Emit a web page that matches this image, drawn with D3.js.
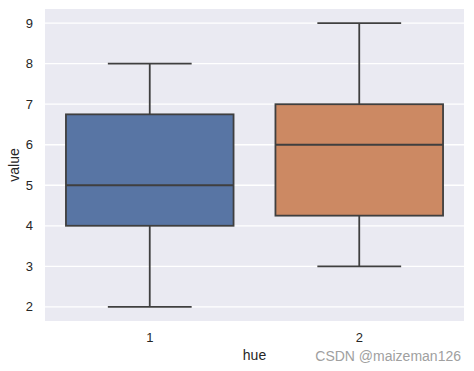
<!DOCTYPE html>
<html>
<head>
<meta charset="utf-8">
<script src="https://cdn.jsdelivr.net/npm/d3@7"></script>
<style>
  body { margin: 0; background: #fff; }
  svg { font-family: "Liberation Sans", Arial, sans-serif; }
</style>
</head>
<body>
<div id="chart"></div>
<script>
const categories = ['1', '2'];
const whiskerLow = [2, 3];
const q1 = [4, 4.25];
const median = [5, 6];
const q3 = [6.75, 7];
const whiskerHigh = [8, 9];
const yTicks = [2, 3, 4, 5, 6, 7, 8, 9];
const colors = ['#5875a4', '#cc8963'];

const boxes = categories.map((c, i) => ({
  cat: c,
  lo: whiskerLow[i],
  q1: q1[i],
  med: median[i],
  q3: q3[i],
  hi: whiskerHigh[i],
  color: colors[i]
}));

const width = 474;
const height = 371;
const margin = { top: 9, right: 10, bottom: 50, left: 45 };
const lineColor = '#3f3f3f';

const svg = d3.select('#chart')
  .append('svg')
  .attr('width', width)
  .attr('height', height);

const x = d3.scaleBand()
  .domain(categories)
  .range([margin.left, width - margin.right]);

// matplotlib style 5% padding around data range
const y = d3.scaleLinear()
  .domain([1.65, 9.35])
  .range([height - margin.bottom, margin.top]);

svg.append('rect')
  .attr('x', margin.left)
  .attr('y', margin.top)
  .attr('width', width - margin.left - margin.right)
  .attr('height', height - margin.top - margin.bottom)
  .attr('fill', '#eaeaf2');

// grid
svg.append('g')
  .selectAll('line')
  .data(yTicks)
  .join('line')
  .attr('x1', margin.left)
  .attr('x2', width - margin.right)
  .attr('y1', (d) => y(d))
  .attr('y2', (d) => y(d))
  .attr('stroke', '#fff')
  .attr('stroke-width', 1.3);

// y axis
const yAxis = svg.append('g')
  .attr('transform', `translate(${margin.left},0)`)
  .call(d3.axisLeft(y).tickValues(yTicks).tickSize(0).tickPadding(12));
yAxis.select('.domain').remove();
yAxis.selectAll('text')
  .attr('font-size', 13)
  .attr('fill', '#262626');

// x axis
const xAxis = svg.append('g')
  .attr('transform', `translate(0,${height - margin.bottom})`)
  .call(d3.axisBottom(x).tickSize(0).tickPadding(12));
xAxis.select('.domain').remove();
xAxis.selectAll('text')
  .attr('font-size', 13)
  .attr('fill', '#262626');

const bw = x.bandwidth();
const boxW = bw * 0.8;
const capW = bw * 0.4;

const g = svg.append('g')
  .selectAll('g')
  .data(boxes)
  .join('g')
  .attr('transform', (d) => `translate(${x(d.cat) + bw / 2},0)`);

// whiskers
g.append('line')
  .attr('x1', 0).attr('x2', 0)
  .attr('y1', (d) => y(d.lo))
  .attr('y2', (d) => y(d.q1))
  .attr('stroke', lineColor).attr('stroke-width', 1.8);
g.append('line')
  .attr('x1', 0).attr('x2', 0)
  .attr('y1', (d) => y(d.q3))
  .attr('y2', (d) => y(d.hi))
  .attr('stroke', lineColor).attr('stroke-width', 1.8);

// caps
g.append('line')
  .attr('x1', -capW / 2).attr('x2', capW / 2)
  .attr('y1', (d) => y(d.lo)).attr('y2', (d) => y(d.lo))
  .attr('stroke', lineColor).attr('stroke-width', 1.8);
g.append('line')
  .attr('x1', -capW / 2).attr('x2', capW / 2)
  .attr('y1', (d) => y(d.hi)).attr('y2', (d) => y(d.hi))
  .attr('stroke', lineColor).attr('stroke-width', 1.8);

// box
g.append('rect')
  .attr('x', -boxW / 2)
  .attr('width', boxW)
  .attr('y', (d) => y(d.q3))
  .attr('height', (d) => y(d.q1) - y(d.q3))
  .attr('fill', (d) => d.color)
  .attr('stroke', lineColor)
  .attr('stroke-width', 1.8);

// median
g.append('line')
  .attr('x1', -boxW / 2).attr('x2', boxW / 2)
  .attr('y1', (d) => y(d.med)).attr('y2', (d) => y(d.med))
  .attr('stroke', lineColor).attr('stroke-width', 1.8);

// axis labels
svg.append('text')
  .attr('x', (margin.left + width - margin.right) / 2)
  .attr('y', 360)
  .attr('text-anchor', 'middle')
  .attr('font-size', 14)
  .attr('fill', '#262626')
  .text('hue');

svg.append('text')
  .attr('transform', `translate(19,${(margin.top + height - margin.bottom) / 2}) rotate(-90)`)
  .attr('text-anchor', 'middle')
  .attr('font-size', 14)
  .attr('fill', '#262626')
  .text('value');

// watermark
svg.append('text')
  .attr('x', 461)
  .attr('y', 361)
  .attr('text-anchor', 'end')
  .attr('font-size', 14)
  .attr('fill', '#a0a0a0')
  .text('CSDN @maizeman126');
</script>
</body>
</html>
